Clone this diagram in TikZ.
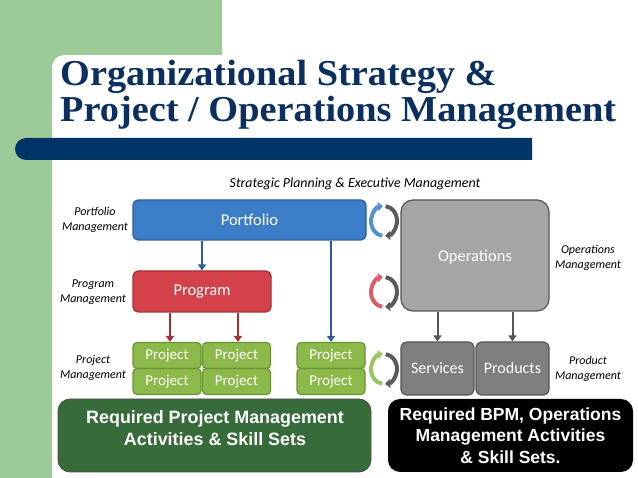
\documentclass[tikz,border=0pt]{standalone}
\usepackage{fontspec}
\setmainfont{Carlito}
\newfontfamily\titlefont{Liberation Serif}
\newfontfamily\arialfont{Liberation Sans}
\usetikzlibrary{arrows.meta}
\definecolor{stripgreen}{HTML}{9CCB98}
\definecolor{navy}{HTML}{0B2F5F}
\definecolor{barnavy}{HTML}{003366}
\definecolor{pfblue}{HTML}{3B7DC6}
\definecolor{pfedge}{HTML}{2A5E98}
\definecolor{pgred}{HTML}{D3424B}
\definecolor{pgedge}{HTML}{A33037}
\definecolor{prgreen}{HTML}{8BBA4A}
\definecolor{predge}{HTML}{6A9334}
\definecolor{opgray}{HTML}{A5A5A5}
\definecolor{spgray}{HTML}{7F7F7F}
\definecolor{gredge}{HTML}{555555}
\definecolor{darkgreen}{HTML}{386B3A}
\definecolor{cyclegray}{HTML}{5A5A5A}
\tikzset{
  box/.style={rectangle, rounded corners=5pt, line width=1.2pt, text=white, inner sep=0pt, align=center},
  pfbox/.style={box, fill=pfblue, draw=pfedge, font=\fontsize{16.5}{18}\selectfont},
  pgbox/.style={box, fill=pgred, draw=pgedge, font=\fontsize{16.5}{18}\selectfont},
  prbox/.style={box, rounded corners=4pt, fill=prgreen, draw=predge, font=\fontsize{15}{16}\selectfont},
  opbox/.style={box, rounded corners=12pt, fill=opgray, draw=gredge, font=\fontsize{16.5}{18}\selectfont},
  spbox/.style={box, rounded corners=6pt, fill=spgray, draw=gredge, font=\fontsize{16}{18}\selectfont},
  sidelabel/.style={font=\fontsize{12}{15}\selectfont\itshape, align=center, inner sep=0pt},
  bigbox/.style={rectangle, rounded corners=12pt, text=white, align=center, inner sep=0pt, font=\arialfont\bfseries\fontsize{17.5}{21.5}\selectfont},
  conn/.style={line width=2pt, -{Triangle[length=6pt,width=8pt]}},
  cyc/.style={line width=4pt, -{Triangle[length=5pt,width=9pt]}}
}
\begin{document}
\begin{tikzpicture}[x=1pt,y=-1pt]
\useasboundingbox (0,0) rectangle (638,478);
\fill[white] (0,0) rectangle (638,478);
% green background strip
\fill[stripgreen] (0,0) -- (222,0) -- (222,55) -- (64,55) arc[start angle=270,end angle=180,radius=12] -- (52,478) -- (0,478) -- cycle;
% title
\node[anchor=base west, inner sep=0pt, text=navy, font=\titlefont\bfseries\fontsize{36.5}{40}\selectfont] (t1) at (60,86) {\scalebox{1.05}[1]{Organizational Strategy \&}};
\node[anchor=base west, inner sep=0pt, text=navy, font=\titlefont\bfseries\fontsize{36.5}{40}\selectfont] (t2) at (60,122) {\scalebox{1.05}[1]{Project / Operations Management}};
% bar
\fill[barnavy] (532,138) -- (26,138) arc[start angle=270,end angle=90,radius=11] -- (532,160) -- cycle;
% header
\node[font=\fontsize{13.9}{15}\selectfont\itshape, inner sep=0pt] (hdr) at (355,184) {Strategic Planning \& Executive Management};
% side labels
\node[sidelabel] (lpf) at (95,220) {Portfolio\\Management};
\node[sidelabel] (lpg) at (93,292) {Program\\Management};
\node[sidelabel] (lpr) at (93,368) {Project\\Management};
\node[sidelabel] (lop) at (588,258) {Operations\\Management};
\node[sidelabel] (lpd) at (588,369) {Product\\Management};
% boxes
\node[pfbox, minimum width=233pt, minimum height=40pt] (pf) at (249.5,220) {Portfolio};
\node[pgbox, minimum width=138pt, minimum height=41pt] (pg) at (202,291.5) {Program};
\node[prbox, minimum width=68pt, minimum height=26pt] (p11) at (167,355.5) {Project};
\node[prbox, minimum width=68pt, minimum height=26pt] (p12) at (236.5,355.5) {Project};
\node[prbox, minimum width=68pt, minimum height=26pt] (p21) at (167,381.5) {Project};
\node[prbox, minimum width=68pt, minimum height=26pt] (p22) at (236.5,381.5) {Project};
\node[prbox, minimum width=68pt, minimum height=26pt] (p13) at (331,355.5) {Project};
\node[prbox, minimum width=68pt, minimum height=26pt] (p23) at (331,381.5) {Project};
\node[opbox, minimum width=148pt, minimum height=111pt] (op) at (475,255.5) {};
\node[text=white, font=\fontsize{16.5}{18}\selectfont, inner sep=0pt] (opt) at (475,257) {Operations};
\node[spbox, minimum width=73pt, minimum height=53pt] (sv) at (437.5,368.5) {Services};
\node[spbox, minimum width=73pt, minimum height=53pt] (pd) at (512.5,368.5) {Products};
% connectors
\draw[conn, draw=pfedge] (pf.south -| pg.north) -- (pg.north);
\draw[conn, draw=pfedge] (pf.south -| p13.north) -- (p13.north);
\draw[conn, draw=pgedge] (pg.south -| 170,0) -- (p11.north -| 170,0);
\draw[conn, draw=pgedge] (pg.south -| 238,0) -- (p12.north -| 238,0);
\draw[conn, draw=gredge] (op.south -| sv.north) -- (sv.north);
\draw[conn, draw=gredge] (op.south -| pd.north) -- (pd.north);
% cycle arrows
\foreach \cy/\col/\nm in {221/pfblue/c1, 292/pgred/c2, 369/prgreen/c3}{
  \coordinate (\nm) at (384,\cy);
  \draw[cyc, draw=\col!85!white] ([shift={(262:13pt and 15pt)}]\nm) arc[start angle=262,end angle=95,x radius=13pt,y radius=15pt];
  \draw[cyc, draw=cyclegray] ([shift={(82:13pt and 15pt)}]\nm) arc[start angle=82,end angle=-85,x radius=13pt,y radius=15pt];
}
% bottom boxes
\node[bigbox, fill=darkgreen, draw=black!70, line width=0.8pt, minimum width=313pt, minimum height=73pt] (gb) at (214.5,435.5) {};
\node[text=white, align=center, inner sep=0pt, font=\arialfont\bfseries\fontsize{17.9}{21.5}\selectfont] (gbt) at (215,428) {Required Project Management\\Activities \& Skill Sets};
\node[bigbox, fill=black, minimum width=245pt, minimum height=73pt] (bb) at (510.5,435.5) {Required BPM, Operations\\Management Activities\\\& Skill Sets.};
\end{tikzpicture}
\end{document}
